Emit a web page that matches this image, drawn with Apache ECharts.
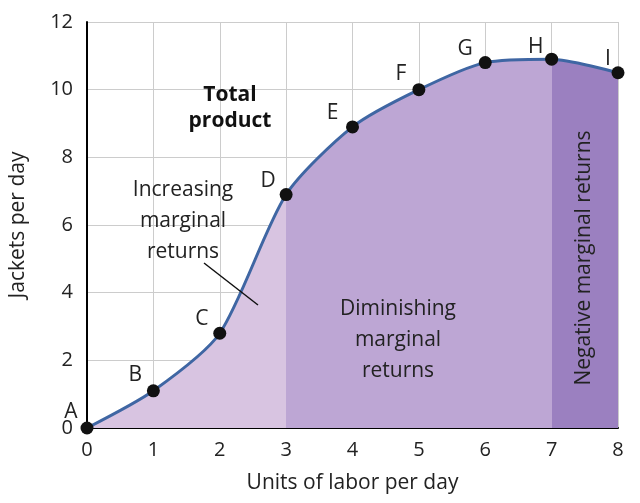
<!DOCTYPE html>
<html><head><meta charset="utf-8">
<script src="https://cdn.jsdelivr.net/npm/echarts@6/dist/echarts.min.js"></script>
<style>html,body{margin:0;padding:0;background:#fff}#c{width:640px;height:503px}</style>
</head><body><div id="c"></div>
<script>
const labor = [0,1,2,3,4,5,6,7,8];
const jackets = [0,1.1,2.8,6.9,8.9,10,10.8,10.9,10.5];
const pointNames = ['A','B','C','D','E','F','G','H','I'];
const yTicks = [0,2,4,6,8,10,12];

const chart = echarts.init(document.getElementById('c'));
const F = 'Open Sans';
const pts = labor.map((x,i)=>[x,jackets[i]]);
chart.setOption({
  animation:false,
  grid:{left:86,right:22,top:22,bottom:75},
  xAxis:{type:'value',min:0,max:8,interval:1,name:'Units of labor per day',nameLocation:'middle',nameGap:45,
    nameTextStyle:{fontFamily:F,fontSize:21,color:'#222'},
    axisLine:{lineStyle:{color:'#000',width:2}},axisTick:{show:false},
    axisLabel:{fontFamily:F,fontSize:20,color:'#222',margin:12},
    splitLine:{show:true,lineStyle:{color:'#ccc'}}},
  yAxis:{type:'value',min:0,max:12,interval:2,name:'Jackets per day',nameLocation:'middle',nameGap:58,
    nameTextStyle:{fontFamily:F,fontSize:21,color:'#222'},
    axisLine:{show:true,lineStyle:{color:'#000',width:2}},axisTick:{show:false},
    axisLabel:{fontFamily:F,fontSize:20,color:'#222',margin:14},
    splitLine:{show:true,lineStyle:{color:'#ccc'}}},
  visualMap:{show:false,type:'piecewise',dimension:0,seriesIndex:0,
    pieces:[{lt:3,color:'#d8c4e1'},{gte:3,lt:7,color:'#bda6d4'},{gte:7,color:'#9b80c0'}]},
  series:[
    {type:'line',data:pts,smooth:0.25,symbol:'none',lineStyle:{width:0},areaStyle:{opacity:1},z:1},
    {type:'line',data:pts,smooth:0.25,symbol:'circle',symbolSize:13,
      lineStyle:{color:'#3f66a3',width:3},itemStyle:{color:'#111'},z:3}
  ]
});
const off = [[-16,-16],[-18,-16],[-18,-14],[-18,-14],[-20,-14],[-18,-16],[-20,-14],[-16,-12],[-10,-14]];
const g = [];
pts.forEach((p,i)=>{
  const px = chart.convertToPixel({gridIndex:0},p);
  g.push({type:'text',x:px[0]+off[i][0],y:px[1]+off[i][1],style:{text:pointNames[i],font:'21px '+F,fill:'#222',align:'center',verticalAlign:'middle'},z:10});
});
g.push({type:'text',x:230,y:108,style:{text:'Total\nproduct',font:'bold 21px '+F,fill:'#111',align:'center',verticalAlign:'middle',lineHeight:26},z:10});
g.push({type:'text',x:183,y:221,style:{text:'Increasing\nmarginal\nreturns',font:'21px '+F,fill:'#222',align:'center',verticalAlign:'middle',lineHeight:31},z:10});
g.push({type:'line',shape:{x1:204,y1:263,x2:258,y2:305},style:{stroke:'#111',lineWidth:1.5},z:10});
g.push({type:'text',x:398,y:340,style:{text:'Diminishing\nmarginal\nreturns',font:'21px '+F,fill:'#222',align:'center',verticalAlign:'middle',lineHeight:31},z:10});
g.push({type:'text',x:584,y:258,rotation:Math.PI/2,style:{text:'Negative marginal returns',font:'21px '+F,fill:'#222',align:'center',verticalAlign:'middle'},z:10});
chart.setOption({graphic:g});
</script></body></html>
